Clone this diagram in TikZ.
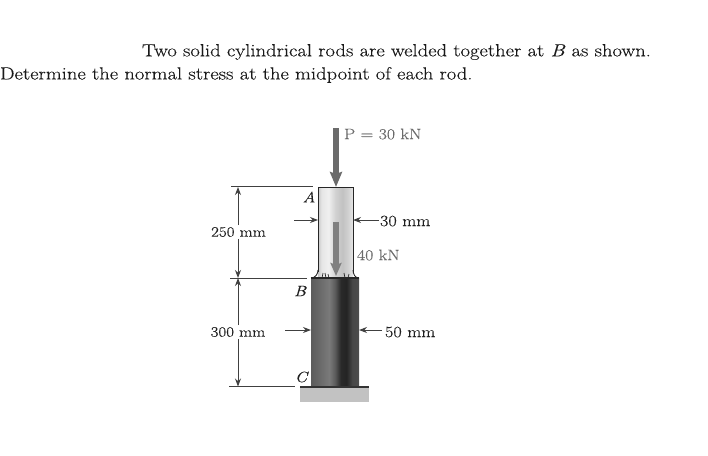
\documentclass[tikz,border=0pt]{standalone}
\usepackage{fontspec}
\setmainfont{Latin Modern Roman}[FakeStretch=1.17,FakeBold=0.25]
\usetikzlibrary{arrows.meta}
\pgfdeclarehorizontalshading{upperrod}{100bp}{
 color(0bp)=(black!22); color(25bp)=(black!22); color(30bp)=(black!10); color(40bp)=(black!6);
 color(50bp)=(black!18); color(60bp)=(black!24); color(68bp)=(black!18); color(75bp)=(black!10); color(100bp)=(black!10)}
\pgfdeclarehorizontalshading{lowerrod}{100bp}{
 color(0bp)=(black!64); color(25bp)=(black!64); color(35bp)=(black!58); color(44bp)=(black!52); color(50bp)=(black!64);
 color(56bp)=(black!84); color(62bp)=(black!86); color(68bp)=(black!72); color(75bp)=(black!70); color(100bp)=(black!70)}
\tikzset{
 every node/.style={inner sep=0pt,outer sep=0pt},
 body/.style={font=\fontsize{17.6}{20}\selectfont,text=black!90},
 dimtext/.style={font=\fontsize{14.5}{17}\selectfont,text=black!88},
 bigdim/.style={font=\fontsize{15.6}{18}\selectfont,text=black!88},
 faint/.style={font=\fontsize{15.2}{17}\selectfont,text=black!58},
 tag/.style={font=\fontsize{15}{17}\selectfont\itshape,text=black!88},
 dimline/.style={draw=black!75,line width=1pt},
 dimarrow/.style={dimline,-{Stealth[length=8pt,width=6pt]}},
 force/.style={draw=black!58,line width=5.5pt,-{Stealth[length=15pt,width=12pt,inset=2pt]}},
 innerforce/.style={draw=black!50,line width=5.5pt,-{Stealth[length=13pt,width=11pt,inset=2pt]}},
}
\begin{document}
\begin{tikzpicture}[x=1pt,y=-1pt]
\useasboundingbox (0,0) rectangle (708,455);
% statement
\node[body,anchor=west] (l1) at (142,52) {Two solid cylindrical rods are welded together at \textit{B} as shown.};
\node[body,anchor=west] (l2) at (0,75) {Determine the normal stress at the midpoint of each rod.};
% ground
\fill[black!24] (300,387) rectangle (369,402);
% rods
\shade[shading=upperrod] (318,187) rectangle (353,278);
\draw[black!85,line width=1pt] (318,272) -- (318,187) -- (353,187) -- (353,272);
\draw[black!85,line width=0.9pt] (318,270) to[out=-90,in=0] (311,278) (353,270) to[out=-90,in=180] (359,278);
\shade[shading=lowerrod] (311,278) rectangle (359,387);
\draw[black!85,line width=1.2pt] (311,278) -- (359,278);
\draw[black!85,line width=0.7pt] (322,278) -- (323,273) (326,278) -- (325,273) (329,278) -- (328,274) (345,278) -- (344,273) (348,278) -- (349,274);
\draw[black!80,line width=1.2pt] (300,387) -- (369,387);
% forces
\coordinate (ptop) at (336,128); \coordinate (pend) at (336,187);
\coordinate (itop) at (336,222); \coordinate (iend) at (336,276);
\draw[force] (ptop) -- (pend);
\draw[innerforce] (itop) -- (iend);
% extension lines
\coordinate (e1a) at (231,186.5); \coordinate (e1b) at (313,186.5);
\coordinate (e2a) at (230,278); \coordinate (e2b) at (307,278);
\coordinate (e3a) at (229,386.5); \coordinate (e3b) at (295,386.5);
\draw[dimline] (e1a) -- (e1b);
\draw[dimline] (e2a) -- (e2b);
\draw[dimline] (e3a) -- (e3b);
% labels
\node[dimtext] (d250) at (238.5,232) {250 mm};
\node[dimtext] (d300) at (238,332) {300 mm};
\node[bigdim,anchor=west] (d30) at (380,221) {30 mm};
\node[bigdim,anchor=west] (d50) at (385,332) {50 mm};
\node[faint,anchor=west] (d40) at (357,255) {40 kN};
\node[faint,anchor=west] (dP) at (344,134) {P = 30 kN};
\node[tag] (A) at (309,197) {A};
\node[tag] (B) at (300,291) {B};
\node[tag] (C) at (301,377) {C};
% vertical dimensions
\coordinate (v1) at (238,187); \coordinate (v2) at (238,278); \coordinate (v3) at (238,386.5);
\draw[dimarrow] (d250.north -| v1) ++(0,-2) -- (v1);
\draw[dimarrow] (d250.south -| v1) ++(0,2) -- (v2);
\draw[dimarrow] (d300.north -| v2) ++(0,-2) -- (v2);
\draw[dimarrow] (d300.south -| v3) ++(0,2) -- (v3);
% diameter arrows
\coordinate (u0) at (294,220); \coordinate (u1) at (318,220); \coordinate (u2) at (353,220);
\coordinate (w0) at (285,330); \coordinate (w1) at (311,330); \coordinate (w2) at (359,330); \coordinate (w3) at (382,330);
\draw[dimarrow] (u0) -- (u1);
\draw[dimarrow] (d30.west |- u2) ++(-1,0) -- (u2);
\draw[dimarrow] (w0) -- (w1);
\draw[dimarrow] (w3) -- (w2);
\end{tikzpicture}
\end{document}
